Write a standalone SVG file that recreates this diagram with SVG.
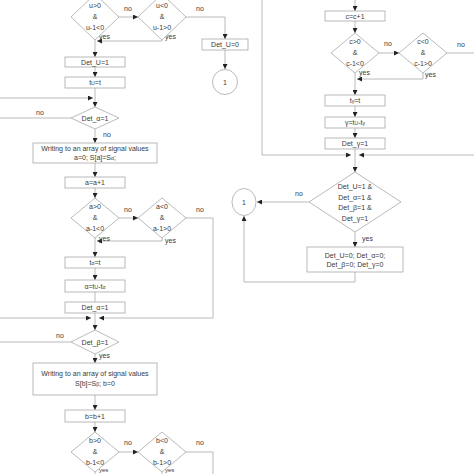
<svg xmlns="http://www.w3.org/2000/svg" width="474" height="474" viewBox="0 0 474 474">
<style>
.s{fill:#fff;stroke:#a8a8a8;stroke-width:0.8}
.c{fill:none;stroke:#a8a8a8;stroke-width:0.8}
.a{fill:none;stroke:#a8a8a8;stroke-width:0.8;marker-end:url(#ah)}
text{font-family:"Liberation Sans",Arial,sans-serif;font-size:7px;fill:#3a3a3a;text-anchor:middle}
.l{text-anchor:start}
.sub{font-size:5.2px}
</style>
<defs>
<marker id="ah" markerWidth="5" markerHeight="5" refX="5" refY="2.5" orient="auto" markerUnits="userSpaceOnUse">
<path d="M0,0 L5,2.5 L0,5 z" fill="#222"/>
</marker>
</defs>
<rect width="474" height="474" fill="#fff"/>
<g id="connectors">
<line class="a" x1="119" y1="17" x2="138" y2="17"/>
<polyline class="a" points="186,17 225,17 225,39"/>
<line class="a" x1="225" y1="50" x2="225" y2="69"/>
<line class="a" x1="95" y1="40" x2="95" y2="57"/>
<polyline class="a" points="162,40 162,41 97,41"/>
<line class="a" x1="95" y1="67" x2="95" y2="77"/>
<line class="a" x1="95" y1="88" x2="95" y2="107"/>
<line class="a" x1="0" y1="98" x2="93" y2="98"/>
<line class="c" x1="71" y1="118" x2="0" y2="118"/>
<line class="a" x1="95" y1="129" x2="95" y2="143"/>
<line class="a" x1="95" y1="163" x2="95" y2="177"/>
<line class="a" x1="95" y1="188" x2="95" y2="198"/>
<line class="a" x1="119" y1="218" x2="138" y2="218"/>
<polyline class="a" points="186,218 213,218 213,318 99,318"/>
<line class="a" x1="0" y1="318" x2="91" y2="318"/>
<line class="a" x1="95" y1="238" x2="95" y2="257"/>
<polyline class="a" points="162,238 162,241 97,241"/>
<line class="a" x1="95" y1="268" x2="95" y2="280"/>
<line class="c" x1="95" y1="292" x2="95" y2="302"/>
<line class="c" x1="95" y1="313" x2="95" y2="318"/>
<line class="a" x1="95" y1="318" x2="95" y2="330"/>
<line class="c" x1="71" y1="342" x2="0" y2="342"/>
<line class="a" x1="95" y1="354" x2="95" y2="363"/>
<line class="a" x1="95" y1="395" x2="95" y2="410"/>
<line class="a" x1="95" y1="422" x2="95" y2="432"/>
<line class="a" x1="119" y1="452" x2="138" y2="452"/>
<polyline class="c" points="186,452 213,452 213,474"/>
<line class="c" x1="95" y1="472" x2="95" y2="474"/>
<line class="c" x1="162" y1="472" x2="162" y2="474"/>
<line class="a" x1="355" y1="0" x2="355" y2="11"/>
<line class="a" x1="355" y1="21" x2="355" y2="33"/>
<line class="a" x1="379" y1="53" x2="399" y2="53"/>
<line class="c" x1="447" y1="53" x2="474" y2="53"/>
<line class="a" x1="355" y1="73" x2="355" y2="95"/>
<polyline class="a" points="423,73 423,79 357,79"/>
<line class="a" x1="355" y1="106" x2="355" y2="117"/>
<line class="a" x1="355" y1="128" x2="355" y2="138"/>
<line class="c" x1="355" y1="149" x2="355" y2="155"/>
<polyline class="a" points="262,0 262,155 351,155"/>
<line class="a" x1="474" y1="155" x2="359" y2="155"/>
<line class="a" x1="355" y1="155" x2="355" y2="172"/>
<line class="a" x1="309" y1="202" x2="257" y2="202"/>
<line class="a" x1="355" y1="232" x2="355" y2="247"/>
<polyline class="a" points="355,272 355,282 244,282 244,216"/>
</g>
<g id="labels">
<text x="128" y="11">no</text>
<text x="200" y="11">no</text>
<text class="l" x="99" y="39">yes</text>
<text class="l" x="165" y="39">yes</text>
<text x="40" y="115">no</text>
<text x="107" y="137">no</text>
<text x="128" y="212">no</text>
<text x="200" y="212">no</text>
<text class="l" x="99" y="241">yes</text>
<text class="l" x="165" y="243">yes</text>
<text x="60" y="338">no</text>
<text class="l" x="99" y="358">yes</text>
<text x="128" y="445">no</text>
<text x="200" y="445">no</text>
<text class="l" x="99" y="471.5" style="font-size:6px">yes</text>
<text class="l" x="165" y="471.5" style="font-size:6px">yes</text>
<text x="388" y="46">no</text>
<text x="461" y="47">no</text>
<text class="l" x="359" y="75">yes</text>
<text class="l" x="425" y="77">yes</text>
<text x="299" y="196">no</text>
<text class="l" x="362" y="241">yes</text>
</g>
<g id="d_u1"><polygon class="s" points="95,-6 119,17 95,40 71,17"/><text x="95" y="8">u&gt;0</text><text x="95" y="19">&amp;</text><text x="95" y="30">u-1&lt;0</text></g>
<g id="d_u2"><polygon class="s" points="162,-6 186,17 162,40 138,17"/><text x="162" y="8">u&lt;0</text><text x="162" y="19">&amp;</text><text x="162" y="30">u-1&gt;0</text></g>
<g id="b_detu0"><rect class="s" x="202" y="39" width="46" height="11"/><text x="225" y="47">Det_U=0</text></g>
<g id="c_1a"><circle class="s" cx="225" cy="82" r="12.5"/><text x="225" y="84.5">1</text></g>
<g id="b_detu1"><rect class="s" x="65" y="57" width="60" height="10"/><text x="95" y="64.5">Det_U=1</text></g>
<g id="b_tu"><rect class="s" x="65" y="77" width="60" height="11"/><text x="95" y="85">t<tspan class="sub">U</tspan>=t</text></g>
<g id="d_deta"><polygon class="s" points="95,107 119,118 95,129 71,118"/><text x="95" y="120.5">Det_α=1</text></g>
<g id="b_write1"><rect class="s" x="33" y="143" width="124" height="20"/><text x="95" y="151">Writing to an array of signal values</text><text x="95" y="160">a=0; S[a]=S<tspan class="sub">α</tspan>;</text></g>
<g id="b_a1"><rect class="s" x="65" y="177" width="60" height="11"/><text x="95" y="185">a=a+1</text></g>
<g id="d_a1"><polygon class="s" points="95,198 119,218 95,238 71,218"/><text x="95" y="209">a&gt;0</text><text x="95" y="220">&amp;</text><text x="95" y="231">a-1&lt;0</text></g>
<g id="d_a2"><polygon class="s" points="162,198 186,218 162,238 138,218"/><text x="162" y="209">a&lt;0</text><text x="162" y="220">&amp;</text><text x="162" y="231">a-1&gt;0</text></g>
<g id="b_ta"><rect class="s" x="65" y="257" width="60" height="11"/><text x="95" y="265">t<tspan class="sub">α</tspan>=t</text></g>
<g id="b_alpha"><rect class="s" x="65" y="280" width="60" height="12"/><text x="95" y="288.5">α=t<tspan class="sub">U</tspan>-t<tspan class="sub">α</tspan></text></g>
<g id="b_deta1"><rect class="s" x="65" y="302" width="60" height="11"/><text x="95" y="310">Det_α=1</text></g>
<g id="d_detb"><polygon class="s" points="95,330 119,342 95,354 71,342"/><text x="95" y="344.5">Det_β=1</text></g>
<g id="b_write2"><rect class="s" x="33" y="363" width="124" height="32"/><text x="95" y="376">Writing to an array of signal values</text><text x="95" y="386">S[b]=S<tspan class="sub">β</tspan>; b=0</text></g>
<g id="b_b1"><rect class="s" x="65" y="410" width="60" height="12"/><text x="95" y="418.5">b=b+1</text></g>
<g id="d_b1"><polygon class="s" points="95,432 119,452 95,472 71,452"/><text x="95" y="443">b&gt;0</text><text x="95" y="454">&amp;</text><text x="95" y="465">b-1&lt;0</text></g>
<g id="d_b2"><polygon class="s" points="162,432 186,452 162,472 138,452"/><text x="162" y="443">b&lt;0</text><text x="162" y="454">&amp;</text><text x="162" y="465">b-1&gt;0</text></g>
<g id="b_c1"><rect class="s" x="325" y="11" width="60" height="10"/><text x="355" y="18.5">c=c+1</text></g>
<g id="d_c1"><polygon class="s" points="355,33 379,53 355,73 331,53"/><text x="355" y="44">c&gt;0</text><text x="355" y="55">&amp;</text><text x="355" y="66">c-1&lt;0</text></g>
<g id="d_c2"><polygon class="s" points="423,33 447,53 423,73 399,53"/><text x="423" y="44">c&lt;0</text><text x="423" y="55">&amp;</text><text x="423" y="66">c-1&gt;0</text></g>
<g id="b_tg"><rect class="s" x="325" y="95" width="60" height="11"/><text x="355" y="103">t<tspan class="sub">γ</tspan>=t</text></g>
<g id="b_gamma"><rect class="s" x="325" y="117" width="60" height="11"/><text x="355" y="125">γ=t<tspan class="sub">U</tspan>-t<tspan class="sub">γ</tspan></text></g>
<g id="b_detg1"><rect class="s" x="325" y="138" width="60" height="11"/><text x="355" y="146">Det_γ=1</text></g>
<g id="d_all"><polygon class="s" points="355,172 401,202 355,232 309,202"/><text x="355" y="189">Det_U=1 &amp;</text><text x="355" y="199.5">Det_α=1 &amp;</text><text x="355" y="210">Det_β=1 &amp;</text><text x="355" y="220.5">Det_γ=1</text></g>
<g id="c_1b"><ellipse class="s" cx="244" cy="202" rx="12" ry="13.5"/><text x="244" y="204.5">1</text></g>
<g id="b_reset"><rect class="s" x="307" y="247" width="96" height="25"/><text x="355" y="257.5">Det_U=0; Det_α=0;</text><text x="355" y="267">Det_β=0; Det_γ=0</text></g>
</svg>
